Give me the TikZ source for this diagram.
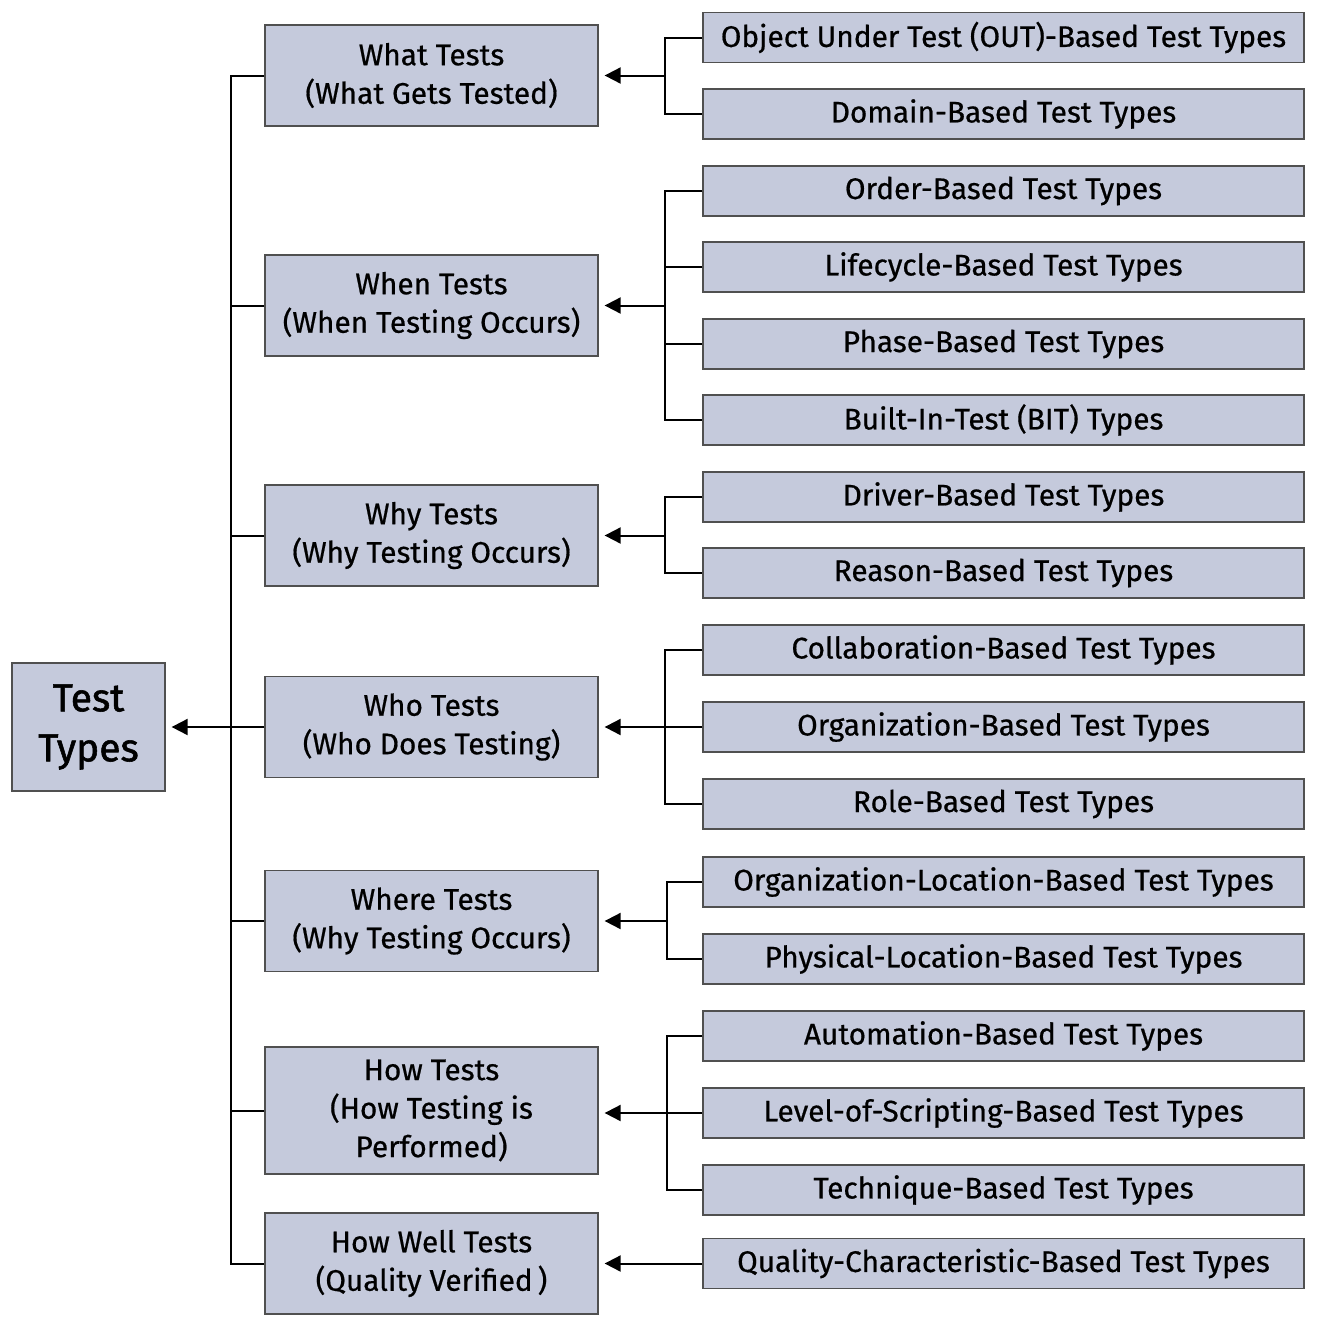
\documentclass[tikz,border=0pt]{standalone}
\usepackage{fontspec}
\setmainfont{Fira Sans}[FakeBold=0.6]
\newfontfamily\rootfont{Fira Sans}[FakeBold=1.4]
\usetikzlibrary{arrows.meta}
\definecolor{boxfill}{HTML}{C5CADC}
\definecolor{boxline}{HTML}{505050}
\begin{document}
\begin{tikzpicture}[x=1pt,y=-1pt,
  basebox/.style={draw=boxline,line width=1.3pt,fill=boxfill,inner sep=0pt,align=center,text=black},
  rootbox/.style={basebox,minimum width=153pt,minimum height=128pt,font=\rootfont\fontsize{39}{50}\selectfont},
  midbox/.style={basebox,minimum width=333pt,minimum height=101pt,font=\fontsize{29.8}{38.5}\selectfont},
  leafbox/.style={basebox,minimum width=601pt,minimum height=50pt,font=\fontsize{29.8}{34}\selectfont},
  conn/.style={line width=2pt,black},
  arr/.style={conn,-{Triangle[length=16pt,width=16pt]},shorten >=6pt}]
\useasboundingbox (0,0) rectangle (1320,1328);

% root
\node[rootbox] (root) at (88.5,727) {Test\\Types};

% middle
\node[midbox] (what) at (431.5,75.5) {What Tests\\(What Gets Tested)};
\node[midbox] (when) at (431.5,305.5) {When Tests\\(When Testing Occurs)};
\node[midbox] (why) at (431.5,535.5) {Why Tests\\(Why Testing Occurs)};
\node[midbox] (who) at (431.5,727) {Who Tests\\(Who Does Testing)};
\node[midbox] (where) at (431.5,921) {Where Tests\\(Why Testing Occurs)};
\node[midbox,minimum height=127pt] (how) at (431.5,1110.5) {How Tests\\(How Testing is\\Performed)};
\node[midbox] (howwell) at (431.5,1263.5) {How Well Tests\\(Quality Verified\,)};

% leaves
\node[leafbox] (l1) at (1003.5,37.5) {Object Under Test (OUT)-Based Test Types};
\node[leafbox] (l2) at (1003.5,114) {Domain-Based Test Types};
\node[leafbox] (l3) at (1003.5,191) {Order-Based Test Types};
\node[leafbox] (l4) at (1003.5,267) {Lifecycle-Based Test Types};
\node[leafbox] (l5) at (1003.5,344) {Phase-Based Test Types};
\node[leafbox] (l6) at (1003.5,420) {Built-In-Test (BIT) Types};
\node[leafbox] (l7) at (1003.5,497) {Driver-Based Test Types};
\node[leafbox] (l8) at (1003.5,573) {Reason-Based Test Types};
\node[leafbox] (l9) at (1003.5,650) {Collaboration-Based Test Types};
\node[leafbox] (l10) at (1003.5,727) {Organization-Based Test Types};
\node[leafbox] (l11) at (1003.5,804) {Role-Based Test Types};
\node[leafbox] (l12) at (1003.5,882) {Organization-Location-Based Test Types};
\node[leafbox] (l13) at (1003.5,959) {Physical-Location-Based Test Types};
\node[leafbox] (l14) at (1003.5,1036) {Automation-Based Test Types};
\node[leafbox] (l15) at (1003.5,1113) {Level-of-Scripting-Based Test Types};
\node[leafbox] (l16) at (1003.5,1190) {Technique-Based Test Types};
\node[leafbox] (l17) at (1003.5,1263.5) {Quality-Characteristic-Based Test Types};

% left bus
\coordinate (lb1) at (231,75.5);
\coordinate (lb7) at (231,1263.5);
\draw[conn] (what.west) -- (lb1) -- (lb7) -- (howwell.west);
\draw[conn] (when.west) -- (231,305.5);
\draw[conn] (why.west) -- (231,535.5);
\draw[conn] (where.west) -- (231,921);
\draw[conn] (how.west) -- (231,1110.5);
\draw[arr] (who.west) -- (root.east);

% right buses
\draw[conn] (l1.west) -| (665,75.5) |- (l2.west);
\draw[arr] (665,75.5) coordinate (rb1) -- (what.east);

\draw[conn] (l3.west) -| (665,305.5) |- (l6.west);
\draw[conn] (l4.west) -- (665,267);
\draw[conn] (l5.west) -- (665,344);
\draw[arr] (665,305.5) coordinate (rb2) -- (when.east);

\draw[conn] (l7.west) -| (665,535.5) |- (l8.west);
\draw[arr] (665,535.5) coordinate (rb3) -- (why.east);

\draw[conn] (l9.west) -| (665,727) |- (l11.west);
\draw[arr] (l10.west) -- (who.east);

\draw[conn] (l12.west) -| (667,921) |- (l13.west);
\draw[arr] (667,921) coordinate (rb5) -- (where.east);

\draw[conn] (l14.west) -| (667,1110.5) |- (l16.west);
\draw[arr] (l15.west) -- (l15.west -| how.east);

\draw[arr] (l17.west) -- (howwell.east);
\end{tikzpicture}
\end{document}
